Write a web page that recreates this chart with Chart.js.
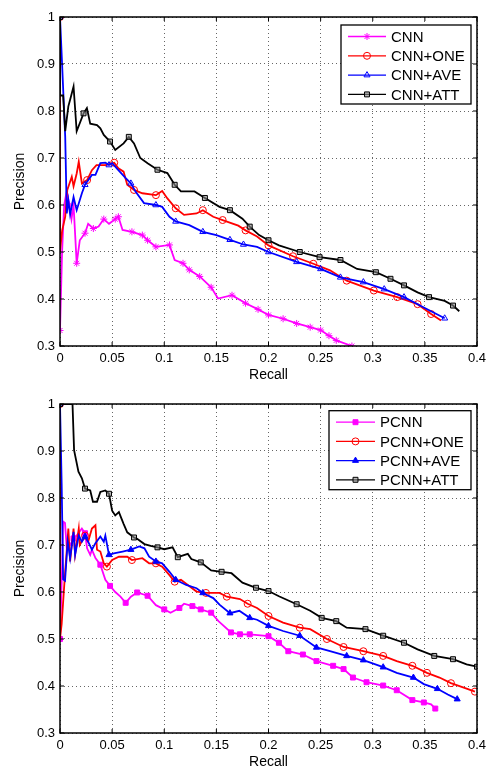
<!DOCTYPE html>
<html>
<head>
<meta charset="utf-8">
<script src="https://cdn.jsdelivr.net/npm/chart.js@4.4.0/dist/chart.umd.min.js"></script>
<style>
body { margin: 0; background: #fff; }
canvas { position: absolute; left: 0; }
#top { top: 0; }
#bottom { top: 390px; }
</style>
</head>
<body>
<canvas id="top" width="503" height="390"></canvas>
<canvas id="bottom" width="503" height="388"></canvas>
<script>
// tick values / labels
var xTicks = [0, 0.05, 0.1, 0.15, 0.2, 0.25, 0.3, 0.35, 0.4];
var xTickLabels = ['0', '0.05', '0.1', '0.15', '0.2', '0.25', '0.3', '0.35', '0.4'];
var yTicks = [0.3, 0.4, 0.5, 0.6, 0.7, 0.8, 0.9, 1];
var yTickLabels = ['0.3', '0.4', '0.5', '0.6', '0.7', '0.8', '0.9', '1'];

var topLabels = ['CNN', 'CNN+ONE', 'CNN+AVE', 'CNN+ATT'];
var bottomLabels = ['PCNN', 'PCNN+ONE', 'PCNN+AVE', 'PCNN+ATT'];

// [recall, precision]
var cnn = [[0,0.333],[0.002,0.5],[0.004,0.6],[0.0065,0.63],[0.009,0.6],[0.011,0.57],[0.013,0.6],[0.016,0.476],[0.019,0.525],[0.024,0.54],[0.027,0.56],[0.032,0.55],[0.037,0.554],[0.042,0.57],[0.047,0.56],[0.053,0.57],[0.056,0.575],[0.06,0.547],[0.069,0.543],[0.079,0.536],[0.084,0.525],[0.092,0.511],[0.105,0.515],[0.11,0.483],[0.118,0.476],[0.124,0.462],[0.134,0.448],[0.145,0.425],[0.1516,0.401],[0.165,0.408],[0.178,0.391],[0.19,0.378],[0.2,0.366],[0.214,0.358],[0.227,0.348],[0.24,0.34],[0.25,0.334],[0.258,0.322],[0.265,0.312],[0.28,0.3]];
var cnnOne = [[0,1.0],[0,0.5],[0.002,0.545],[0.005,0.575],[0.007,0.632],[0.0113,0.66],[0.013,0.64],[0.016,0.667],[0.018,0.692],[0.021,0.646],[0.026,0.653],[0.0306,0.674],[0.035,0.685],[0.0435,0.685],[0.052,0.69],[0.056,0.678],[0.061,0.671],[0.0645,0.643],[0.071,0.632],[0.079,0.625],[0.092,0.621],[0.098,0.63],[0.103,0.614],[0.111,0.593],[0.119,0.579],[0.131,0.582],[0.137,0.589],[0.147,0.575],[0.156,0.568],[0.171,0.556],[0.178,0.546],[0.189,0.533],[0.2,0.514],[0.2235,0.491],[0.243,0.475],[0.259,0.461],[0.275,0.439],[0.301,0.418],[0.3235,0.404],[0.343,0.389],[0.356,0.368],[0.3655,0.354]];
var cnnAve = [[0,1.0],[0.002,0.9],[0.005,0.745],[0.0065,0.582],[0.008,0.61],[0.0097,0.58],[0.013,0.617],[0.016,0.589],[0.021,0.625],[0.024,0.643],[0.0306,0.664],[0.034,0.664],[0.0387,0.689],[0.0435,0.69],[0.047,0.685],[0.05,0.689],[0.056,0.674],[0.063,0.657],[0.068,0.646],[0.0726,0.628],[0.0806,0.604],[0.092,0.6],[0.098,0.596],[0.105,0.575],[0.111,0.565],[0.124,0.557],[0.137,0.543],[0.15,0.536],[0.163,0.526],[0.176,0.516],[0.189,0.511],[0.2,0.5],[0.227,0.479],[0.25,0.464],[0.269,0.446],[0.291,0.436],[0.311,0.421],[0.33,0.404],[0.349,0.382],[0.369,0.359]];
var cnnAtt = [[0,1.0],[0,0.833],[0.003,0.833],[0.005,0.757],[0.008,0.81],[0.0097,0.824],[0.013,0.852],[0.016,0.757],[0.0226,0.795],[0.0258,0.806],[0.029,0.773],[0.0355,0.77],[0.0387,0.763],[0.042,0.749],[0.048,0.735],[0.053,0.717],[0.061,0.731],[0.066,0.745],[0.071,0.731],[0.077,0.7],[0.084,0.689],[0.0935,0.675],[0.103,0.668],[0.11,0.643],[0.116,0.629],[0.129,0.629],[0.139,0.615],[0.153,0.596],[0.163,0.589],[0.175,0.571],[0.182,0.554],[0.191,0.536],[0.2,0.525],[0.21,0.514],[0.23,0.5],[0.249,0.489],[0.269,0.483],[0.285,0.464],[0.303,0.457],[0.317,0.443],[0.33,0.429],[0.343,0.414],[0.354,0.404],[0.369,0.396],[0.377,0.386],[0.383,0.374]];

// [recall, precision]
var pcnn = [[0,0.5],[0.002,0.65],[0.003,0.75],[0.0048,0.747],[0.0065,0.693],[0.0097,0.7],[0.013,0.714],[0.016,0.72],[0.021,0.735],[0.024,0.725],[0.026,0.693],[0.029,0.679],[0.0306,0.69],[0.034,0.672],[0.0387,0.658],[0.0435,0.626],[0.048,0.613],[0.053,0.6],[0.058,0.59],[0.063,0.577],[0.068,0.59],[0.074,0.599],[0.084,0.592],[0.092,0.572],[0.1,0.563],[0.106,0.556],[0.1145,0.566],[0.119,0.575],[0.127,0.57],[0.135,0.563],[0.145,0.556],[0.152,0.538],[0.164,0.514],[0.1726,0.51],[0.182,0.51],[0.2,0.506],[0.21,0.492],[0.219,0.474],[0.233,0.467],[0.246,0.453],[0.262,0.443],[0.272,0.436],[0.281,0.418],[0.294,0.408],[0.31,0.401],[0.323,0.391],[0.338,0.37],[0.349,0.365],[0.356,0.361],[0.36,0.352]];
var pcnnOne = [[0,1.0],[0,0.5],[0.0016,0.532],[0.0048,0.638],[0.008,0.735],[0.0097,0.665],[0.013,0.735],[0.0145,0.68],[0.018,0.735],[0.019,0.7],[0.024,0.72],[0.027,0.707],[0.0306,0.735],[0.034,0.742],[0.0355,0.69],[0.0387,0.686],[0.042,0.661],[0.045,0.654],[0.05,0.668],[0.0565,0.675],[0.0645,0.675],[0.069,0.668],[0.079,0.672],[0.0855,0.661],[0.092,0.661],[0.098,0.654],[0.105,0.636],[0.11,0.622],[0.116,0.626],[0.1226,0.615],[0.131,0.601],[0.14,0.598],[0.153,0.598],[0.16,0.59],[0.1726,0.585],[0.18,0.575],[0.189,0.566],[0.2,0.549],[0.214,0.535],[0.23,0.524],[0.24,0.521],[0.256,0.5],[0.272,0.483],[0.291,0.474],[0.31,0.464],[0.323,0.453],[0.338,0.443],[0.352,0.428],[0.364,0.418],[0.375,0.406],[0.388,0.396],[0.398,0.388]];
var pcnnAve = [[0,1.0],[0.0016,0.83],[0.003,0.627],[0.0048,0.624],[0.0074,0.707],[0.0097,0.672],[0.013,0.728],[0.0145,0.679],[0.018,0.72],[0.021,0.707],[0.024,0.718],[0.027,0.707],[0.0306,0.69],[0.034,0.704],[0.0387,0.718],[0.042,0.707],[0.0435,0.72],[0.047,0.679],[0.0516,0.682],[0.06,0.686],[0.068,0.69],[0.076,0.697],[0.081,0.693],[0.0855,0.675],[0.092,0.665],[0.098,0.661],[0.105,0.643],[0.111,0.626],[0.121,0.615],[0.131,0.608],[0.137,0.598],[0.147,0.587],[0.153,0.573],[0.163,0.555],[0.172,0.56],[0.182,0.545],[0.189,0.541],[0.2,0.528],[0.214,0.517],[0.23,0.507],[0.246,0.482],[0.259,0.474],[0.275,0.464],[0.291,0.455],[0.31,0.44],[0.323,0.428],[0.339,0.418],[0.349,0.404],[0.362,0.394],[0.372,0.382],[0.381,0.372]];
var pcnnAtt = [[0,1.0],[0.012,1.0],[0.0135,0.902],[0.0177,0.856],[0.021,0.842],[0.024,0.82],[0.029,0.816],[0.0316,0.792],[0.0355,0.792],[0.0387,0.813],[0.0435,0.816],[0.047,0.809],[0.05,0.773],[0.053,0.763],[0.0565,0.77],[0.061,0.745],[0.0645,0.727],[0.071,0.716],[0.074,0.713],[0.081,0.702],[0.087,0.698],[0.0935,0.695],[0.1,0.691],[0.108,0.695],[0.113,0.674],[0.1226,0.681],[0.126,0.67],[0.135,0.663],[0.145,0.646],[0.155,0.643],[0.1645,0.64],[0.175,0.62],[0.188,0.609],[0.2,0.602],[0.21,0.591],[0.227,0.574],[0.24,0.56],[0.251,0.545],[0.265,0.538],[0.275,0.524],[0.293,0.521],[0.31,0.507],[0.33,0.492],[0.343,0.478],[0.359,0.464],[0.377,0.457],[0.39,0.446],[0.4,0.441]];

var FONT = '"Liberation Sans", Arial, sans-serif';

function toPoints(arr) {
    return arr.map(function (p) { return { x: p[0], y: p[1] }; });
}

function series(label, arr, color, style, fill, step, order) {
    return {
        label: label,
        data: toPoints(arr),
        borderColor: color,
        backgroundColor: fill,
        pointBorderColor: color,
        pointBackgroundColor: fill,
        pointStyle: style,
        // a marker about every `step` of recall, like matlab's sparse markers
        pointRadius: function (c) {
            var d = c.dataset.data, i = c.dataIndex;
            if (i === 0) return 3.5;
            return Math.floor(d[i].x / step) !== Math.floor(d[i - 1].x / step) ? 3.5 : 0;
        },
        pointBorderWidth: 1,
        borderWidth: 1.8,
        showLine: true,
        tension: 0,
        order: order
    };
}

// box round the plot, inward ticks, legend with a frame
var framePlugin = {
    id: 'frame',
    afterDraw: function (chart) {
        var a = chart.chartArea, c = chart.ctx;
        var xs = chart.scales.x, ys = chart.scales.y;
        c.save();
        c.strokeStyle = '#000';
        c.lineWidth = 1;
        c.beginPath();
        xTicks.forEach(function (v) {
            var p = xs.getPixelForValue(v);
            c.moveTo(p, a.bottom); c.lineTo(p, a.bottom - 4);
            c.moveTo(p, a.top); c.lineTo(p, a.top + 4);
        });
        yTicks.forEach(function (v) {
            var p = ys.getPixelForValue(v);
            c.moveTo(a.left, p); c.lineTo(a.left + 4, p);
            c.moveTo(a.right, p); c.lineTo(a.right - 4, p);
        });
        c.stroke();
        c.lineWidth = 1.5;
        c.strokeRect(a.left, a.top, a.right - a.left, a.bottom - a.top);

        var o = chart.options.plugins.frame;
        var bx = a.right - o.right - o.width, by = a.top + o.top;
        c.fillStyle = '#fff';
        c.fillRect(bx, by, o.width, o.height);
        c.lineWidth = 1.3;
        c.strokeStyle = '#000';
        c.strokeRect(bx, by, o.width, o.height);
        c.font = '15px ' + FONT;
        c.textBaseline = 'middle';
        var sets = chart.data.datasets;
        for (var i = 0; i < sets.length; i++) {
            var ds = sets[i];
            var y = by + o.first + i * o.row;
            c.strokeStyle = ds.borderColor;
            c.lineWidth = 1.3;
            c.beginPath();
            c.moveTo(bx + 7, y); c.lineTo(bx + 7 + o.line, y);
            c.stroke();
            c.fillStyle = ds.pointBackgroundColor;
            c.lineWidth = 1;
            Chart.helpers.drawPoint(c, { pointStyle: ds.pointStyle, radius: 3.5, rotation: 0, borderWidth: 1 }, bx + 7 + o.line / 2, y);
            c.fillStyle = '#000';
            c.fillText(ds.label, bx + 12 + o.line, y + 1);
        }
        c.restore();
    }
};

function axes(xAxisH, titlePad) {
    return {
        x: {
            type: 'linear', min: 0, max: 0.4,
            afterBuildTicks: function (s) { s.ticks = xTicks.map(function (v) { return { value: v }; }); },
            afterFit: function (s) { s.height = xAxisH; },
            ticks: {
                callback: function (v, i) { return xTickLabels[i]; },
                font: { family: FONT, size: 13 }, color: '#000', padding: 5,
                maxRotation: 0, autoSkip: false
            },
            grid: { color: '#666', lineWidth: 1, drawTicks: false },
            border: { display: false, dash: [1, 3] },
            title: {
                display: true, text: 'Recall', color: '#000',
                font: { family: FONT, size: 14 },
                padding: { top: 0, bottom: titlePad }
            }
        },
        y: {
            type: 'linear', min: 0.3, max: 1,
            afterBuildTicks: function (s) { s.ticks = yTicks.map(function (v) { return { value: v }; }); },
            afterFit: function (s) { s.width = 60; },
            ticks: {
                callback: function (v, i) { return yTickLabels[i]; },
                font: { family: FONT, size: 13 }, color: '#000', padding: 5,
                autoSkip: false
            },
            grid: { color: '#666', lineWidth: 1, drawTicks: false },
            border: { display: false, dash: [1, 3] },
            title: {
                display: true, text: 'Precision', color: '#000',
                font: { family: FONT, size: 14 },
                padding: { top: 11.5, bottom: 0 }
            }
        }
    };
}

var hollow = 'rgba(0,0,0,0)';

new Chart(document.getElementById('top').getContext('2d'), {
    type: 'scatter',
    data: {
        datasets: [
            series(topLabels[0], cnn, '#ff00ff', 'star', hollow, 0.008, 4),
            series(topLabels[1], cnnOne, '#ff0000', 'circle', hollow, 0.022, 3),
            series(topLabels[2], cnnAve, '#0000ff', 'triangle', hollow, 0.022, 2),
            series(topLabels[3], cnnAtt, '#000000', 'rect', 'rgba(140,140,140,0.6)', 0.022, 1)
        ]
    },
    options: {
        responsive: false,
        animation: false,
        layout: { padding: { left: 0, right: 26, top: 17, bottom: 0 } },
        scales: axes(44, 6.6),
        plugins: {
            legend: { display: false },
            tooltip: { enabled: false },
            frame: { right: 6, top: 8, width: 130, height: 79, first: 11.5, row: 19.3, line: 38 }
        }
    },
    plugins: [framePlugin]
});

new Chart(document.getElementById('bottom').getContext('2d'), {
    type: 'scatter',
    data: {
        datasets: [
            series(bottomLabels[0], pcnn, '#ff00ff', 'rect', '#ff00ff', 0.012, 4),
            series(bottomLabels[1], pcnnOne, '#ff0000', 'circle', hollow, 0.022, 3),
            series(bottomLabels[2], pcnnAve, '#0000ff', 'triangle', '#0000ff', 0.022, 2),
            series(bottomLabels[3], pcnnAtt, '#000000', 'rect', 'rgba(140,140,140,0.6)', 0.022, 1)
        ]
    },
    options: {
        responsive: false,
        animation: false,
        layout: { padding: { left: 0, right: 26, top: 14, bottom: 0 } },
        scales: axes(45, 7.9),
        plugins: {
            legend: { display: false },
            tooltip: { enabled: false },
            frame: { right: 6, top: 6.7, width: 142, height: 79, first: 11.5, row: 19.2, line: 39 }
        }
    },
    plugins: [framePlugin]
});
</script>
</body>
</html>
